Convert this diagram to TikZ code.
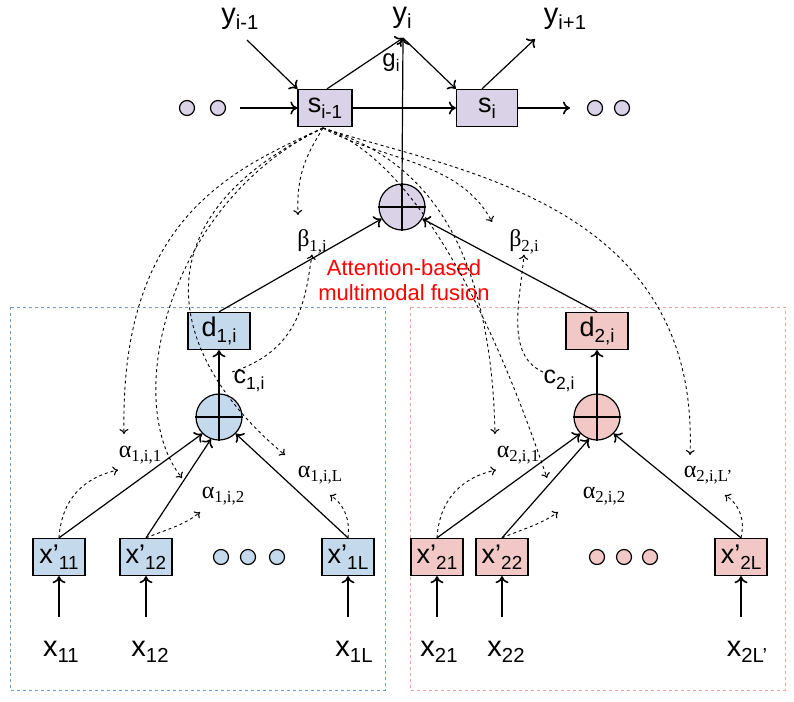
\documentclass[tikz,border=0pt]{standalone}
\usepackage{fontspec}
\setmainfont{Liberation Sans}
\newfontfamily\grk{Liberation Serif}
\usetikzlibrary{arrows.meta}
\newcommand{\sbs}[1]{\raisebox{-0.4ex}{\scalebox{0.7}{#1}}}
\definecolor{lav}{RGB}{218,210,230}
\definecolor{lblue}{RGB}{197,217,237}
\definecolor{lpink}{RGB}{242,200,198}
\definecolor{bdash}{RGB}{110,155,200}
\definecolor{pdash}{RGB}{230,165,160}
\begin{document}
\begin{tikzpicture}[x=1pt,y=-1pt,line width=1.2pt,
 box/.style={draw,line width=1.3pt,minimum width=52pt,minimum height=37pt,inner sep=0pt,font=\fontsize{27}{29}\selectfont},
 lab/.style={inner sep=0pt,font=\fontsize{29}{31}\selectfont},
 glab/.style={inner sep=0pt,font=\fontsize{24}{26}\selectfont\grk},
 dot/.style={draw,line width=1.2pt,circle,minimum size=15pt,inner sep=0pt},
 arr/.style={-{>[length=7pt,width=13pt,line width=1.6pt]}},
 darr/.style={dashed,line width=0.9pt,-{>[length=5pt,width=9pt,line width=1.1pt]}}]
\useasboundingbox (0,0) rectangle (794,701);
\draw[dashed,bdash,line width=0.9pt] (10,307) rectangle (385,690);
\draw[dashed,pdash,line width=0.9pt] (410,307) rectangle (785,690);
% top
\node[box,fill=lav,minimum width=54pt] (s0) at (325,108) {s\sbs{i-1}};
\node[box,fill=lav,minimum width=61pt] (s1) at (487,108) {s\sbs{i}};
\node[dot,fill=lav] (o1) at (187,108) {};
\node[dot,fill=lav] (o2) at (218,108) {};
\node[dot,fill=lav] (o3) at (595,108) {};
\node[dot,fill=lav] (o4) at (622,108) {};
\coordinate (ls) at (240,108); \coordinate (re) at (570,108);
\node[lab] (ym) at (240,19) {y\sbs{i-1}};
\node[lab] (yi) at (402,18) {y\sbs{i}};
\node[lab] (yp) at (565,19) {y\sbs{i+1}};
\coordinate (yit) at (403,38);
\node[lab,font=\fontsize{24}{26}\selectfont] (g) at (391,63) {g\sbs{i}};
\draw[arr] (ls) -- (s0);
\draw[arr] (s0) -- (s1);
\draw[arr] (s1) -- (re);
\draw[arr] (247,40) -- (s0.north west);
\draw[arr] (s0.north) ++(2,0) -- (yit);
\draw[arr] (yit) -- (s1.north west);
\draw[arr] (s1.north) ++(-5,0) -- (535,39);
\node[draw,line width=1.2pt,circle,fill=lav,minimum size=46pt,inner sep=0pt] (pt) at (402,207) {};
\draw (pt.north)--(pt.south) (pt.west)--(pt.east);
\draw[arr] (pt.north) -- (yit);
\node[glab] (b1) at (312,242) {β\sbs{1,i}};
\node[glab] (b2) at (524,242) {β\sbs{2,i}};
\node[red,inner sep=0pt,align=center,font=\fontsize{22}{25}\selectfont] (att) at (404,280) {Attention-based\\multimodal fusion};
% modules
\node[box,fill=lblue,minimum width=62pt] (d1) at (219,331) {d\sbs{1,i}};
\node[box,fill=lpink,minimum width=62pt] (d2) at (597,331) {d\sbs{2,i}};
\draw[arr] (d1.north) -- (pt.210);
\draw[arr] (d2.north) -- (pt.330);
\node[lab,font=\fontsize{25}{27}\selectfont] (c1) at (249,381) {c\sbs{1,i}};
\node[lab,font=\fontsize{25}{27}\selectfont] (c2) at (559,381) {c\sbs{2,i}};
\foreach \s/\cx/\fc/\a/\b/\c/\da/\db/\dc/\lab/\l in {1/219/lblue/59/146/348/221/248/277/1L/1L,2/597/lpink/437/502/741/597/624/650/2L/2L'}{
 \node[draw,line width=1.2pt,circle,fill=\fc,minimum size=46pt,inner sep=0pt] (p\s) at (\cx,417) {};
 \draw (p\s.north)--(p\s.south) (p\s.west)--(p\s.east);
 \draw[arr] (p\s.north) -- (d\s.south);
 \node[box,fill=\fc] (xa\s) at (\a,557) {x’\sbs{\s1}};
 \node[box,fill=\fc] (xb\s) at (\b,557) {x’\sbs{\s2}};
 \node[box,fill=\fc] (xc\s) at (\c,557) {x’\sbs{\lab}};
 \node[dot,fill=\fc] at (\da,557) {};
 \node[dot,fill=\fc] at (\db,557) {};
 \node[dot,fill=\fc] at (\dc,557) {};
 \node[lab] (ia\s) at (\a+2,652) {x\sbs{\s1}};
 \node[lab] (ib\s) at (\b+4,652) {x\sbs{\s2}};
 \node[lab] (ic\s) at (\c+6,652) {x\sbs{\l}};
 \draw[arr] (\a,617) -- (xa\s);
 \draw[arr] (\b,617) -- (xb\s);
 \draw[arr] (\c,617) -- (xc\s);
 \draw[arr] (xa\s.north) -- (p\s.225);
 \draw[arr] (xb\s.north) -- (p\s.250);
 \draw[arr] (xc\s.north) -- (p\s.315);
}
\node[glab] (a11) at (140,455) {α\sbs{1,i,1}};
\node[glab] (a12) at (223,496) {α\sbs{1,i,2}};
\node[glab] (a1L) at (320,475) {α\sbs{1,i,L}};
\node[glab] (a21) at (518,455) {α\sbs{2,i,1}};
\node[glab] (a22) at (604,496) {α\sbs{2,i,2}};
\node[glab] (a2L) at (708,475) {α\sbs{2,i,L’}};
% small dashed
\draw[darr] (xa1.north) .. controls (62,490) and (95,475) .. (118,470);
\draw[darr] (xb1.north) .. controls (165,530) and (185,525) .. (200,512);
\draw[darr] (xc1.north) .. controls (350,520) and (345,505) .. (330,495);
\draw[darr] (xa2.north) .. controls (440,490) and (473,475) .. (496,470);
\draw[darr] (xb2.north) .. controls (520,530) and (540,525) .. (558,512);
\draw[darr] (xc2.north) .. controls (745,520) and (740,505) .. (725,495);
\draw[darr] (232,372) .. controls (300,350) and (305,300) .. (b1.south);
\draw[darr] (543,372) .. controls (505,355) and (520,300) .. (b2.south);
% attention dashed from s0
\coordinate (sb) at (323,128);
\draw[darr] (sb) .. controls (310,150) and (296,170) .. (298,215);
\draw[darr] (sb) .. controls (230,170) and (120,220) .. (124,434);
\draw[darr] (sb) .. controls (170,200) and (120,400) .. (182,478);
\draw[darr] (sb) .. controls (130,220) and (170,360) .. (285,455);
\draw[darr] (sb) .. controls (380,160) and (460,160) .. (492,222);
\draw[darr] (sb) .. controls (390,150) and (490,200) .. (495,434);
\draw[darr] (sb) .. controls (390,150) and (470,250) .. (547,478);
\draw[darr] (sb) .. controls (450,170) and (700,200) .. (690,455);
\end{tikzpicture}
\end{document}
